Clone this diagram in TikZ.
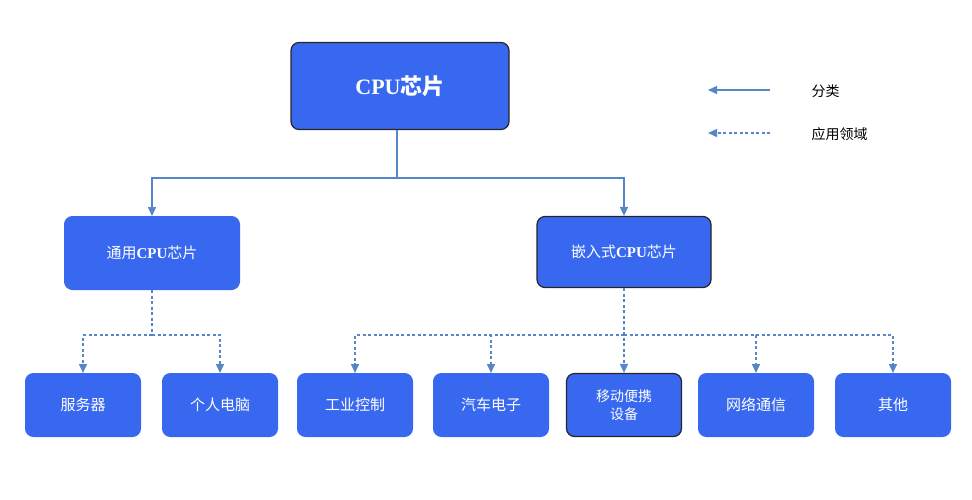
\documentclass[tikz,border=0pt]{standalone}
\usepackage{fontspec}
\newfontfamily\cjk{Noto Sans CJK SC}
\setmainfont{Liberation Serif}
\usetikzlibrary{arrows.meta}
\definecolor{boxblue}{RGB}{56,104,240}
\definecolor{lineblue}{RGB}{84,134,200}
\tikzset{
  box/.style={draw=boxblue,fill=boxblue,rounded corners=8pt,text=white,align=center,font=\cjk\fontsize{15}{17}\selectfont,inner sep=0pt,line width=1pt},
  dark/.style={draw=black!85,line width=1.2pt},
  cls/.style={draw=lineblue,line width=1.5pt,-{Triangle[length=9pt,width=8pt]}},
  app/.style={cls,dashed,dash pattern=on 3pt off 2.5pt}
}
\begin{document}
\begin{tikzpicture}[x=1pt,y=-1pt]
\useasboundingbox (0,0) rectangle (972,499);
\node[box,dark,minimum width=218pt,minimum height=87pt,font=\bfseries\fontsize{22}{24}\selectfont] (cpu) at (400,86) {CPU{\cjk 芯片}};
\node[box,minimum width=175pt,minimum height=73pt] (gen) at (152,253) {通用{\rmfamily\bfseries CPU}芯片};
\node[box,dark,minimum width=174pt,minimum height=71pt] (emb) at (624,252) {嵌入式{\rmfamily\bfseries CPU}芯片};
%bottom row
\foreach \name/\x/\txt in {srv/83/服务器,pc/220/个人电脑,ind/355/工业控制,car/491/汽车电子,net/756/网络通信,oth/893/其他}
  \node[box,minimum width=115pt,minimum height=63pt] (\name) at (\x,405) {\txt};
\node[box,dark,minimum width=115pt,minimum height=63pt,font=\cjk\fontsize{14}{18}\selectfont] (mob) at (624,405) {移动便携\\设备};
%connectors
\coordinate (j1) at (397,178);
\draw[draw=lineblue,line width=1.5pt] (cpu.south -| j1) -- (j1);
\draw[cls] (j1) -| (gen.north);
\draw[cls] (j1) -| (emb.north);
\coordinate (j2) at (152,335);
\draw[app,-] (gen.south) -- (j2);
\draw[app] (j2) -| (srv.north);
\draw[app] (j2) -| (pc.north);
\coordinate (j3) at (624,335);
\draw[app] (emb.south) -- (mob.north);
\foreach \n in {ind,car}
  \draw[app] (j3) -| (\n.north);
\foreach \n in {net,oth}
  \draw[app] (j3) -| (\n.north);
%legend
\coordinate (l1) at (770,90);
\coordinate (l2) at (770,133);
\draw[cls] (l1) -- (708,90);
\draw[app] (l2) -- (708,133);
\node[anchor=west,font=\cjk\fontsize{14}{16}\selectfont] (lab1) at (808,91) {分类};
\node[anchor=west,font=\cjk\fontsize{14}{16}\selectfont] (lab2) at (808,134) {应用领域};
\end{tikzpicture}
\end{document}
